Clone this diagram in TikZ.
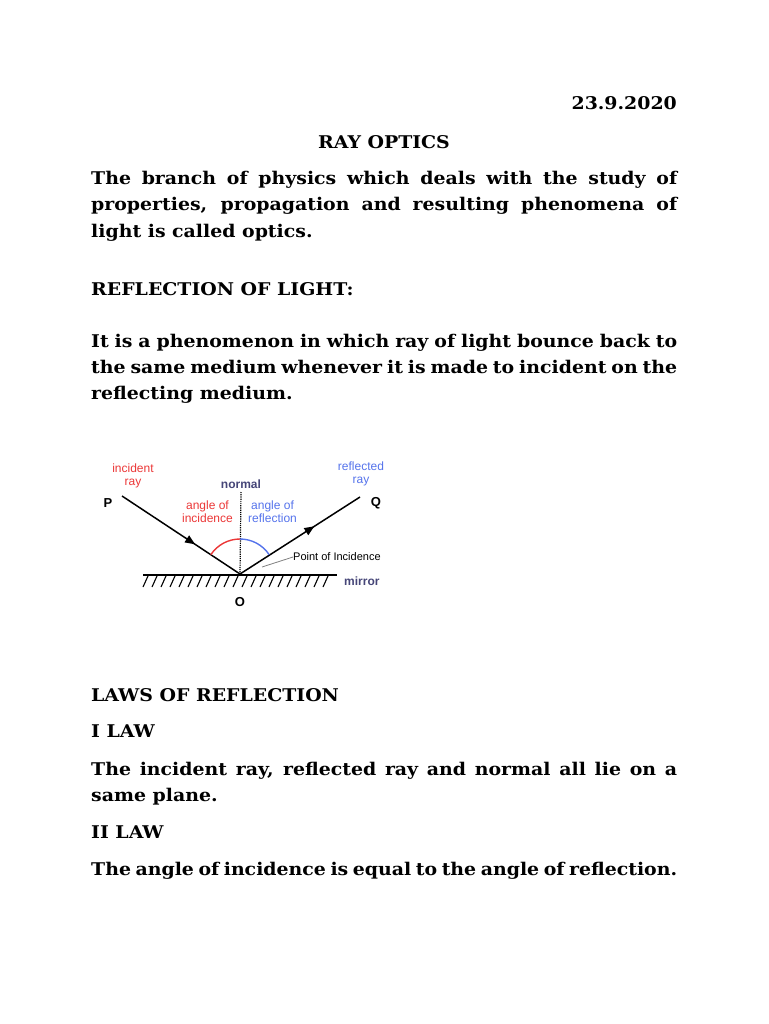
\documentclass[tikz,border=0pt]{standalone}
\usepackage{fontspec}
\setmainfont{DejaVu Serif}[FakeStretch=1.08]
\newfontfamily\dsans{Liberation Sans}
\usetikzlibrary{arrows.meta,decorations.markings}
\definecolor{rred}{RGB}{235,55,55}
\definecolor{bblue}{RGB}{85,115,235}
\definecolor{slate}{RGB}{70,70,120}
\tikzset{
 ln/.style={anchor=base west,inner sep=0pt,font=\fontsize{17.5}{26}\selectfont\bfseries},
 lab/.style={inner sep=0pt,font=\dsans\fontsize{12}{13}\selectfont,align=center},
 ray/.style={line width=1.5pt,postaction={decorate},decoration={markings,mark=at position 0.62 with {\arrow{Triangle[length=10pt,width=8pt]}}}}
}
\newcommand\jl[1]{\hbox to 586pt{#1}}
\begin{document}
\begin{tikzpicture}[x=1pt,y=-1pt]
\useasboundingbox (0,0) rectangle (768,1024);
\node[ln,anchor=base east] (date) at (677,110) {23.9.2020};
\node[ln,anchor=base] (title) at (384,149) {RAY OPTICS};
\node[ln] (p1a) at (91,185) {\jl{The branch of physics which deals with the study of}};
\node[ln] (p1b) at (91,211) {\jl{properties, propagation and resulting phenomena of}};
\node[ln] (p1c) at (91,237) {light is called optics.};
\node[ln] (h1) at (91,295) {REFLECTION OF LIGHT:};
\node[ln] (p2a) at (91,347) {\jl{It is a phenomenon in which ray of light bounce back to}};
\node[ln] (p2b) at (91,373) {\jl{the same medium whenever it is made to incident on the}};
\node[ln] (p2c) at (91,399) {reflecting medium.};
\node[ln] (h2) at (91,701) {LAWS OF REFLECTION};
\node[ln] (h3) at (91,737) {I LAW};
\node[ln] (p3a) at (91,775) {\jl{The incident ray, reflected ray and normal all lie on a}};
\node[ln] (p3b) at (91,801) {same plane.};
\node[ln] (h4) at (91,838) {II LAW};
\node[ln] (p4a) at (91,875) {\jl{The angle of incidence is equal to the angle of reflection.}};
% diagram
\coordinate (O) at (240,574);
\coordinate (P) at (122,496);
\coordinate (Q) at (360,497);
\coordinate (N) at (241,492);
\coordinate (ML) at (143,575);
\coordinate (MR) at (337,575);
\draw[line width=1.8pt] (ML) -- (MR);
\foreach \x in {148,157,...,334} \draw[line width=1.1pt] (\x,576) -- (\x-5,587);
\draw[densely dotted,line width=1.2pt] (N) -- (O);
\draw[ray] (P) -- (O);
\draw[ray] (O) -- (Q);
\draw[rred,line width=1.4pt] ([shift={(-146.5:35)}]O) arc[start angle=-146.5,end angle=-90,radius=35];
\draw[bblue,line width=1.4pt] ([shift={(-90:35)}]O) arc[start angle=-90,end angle=-33.5,radius=35];
\node[lab,text=rred] (inc) at (133,476) {incident\\ray};
\node[lab,text=bblue] (ref) at (361,474) {reflected\\ray};
\node[lab,text=slate,font=\dsans\bfseries\fontsize{12}{13}\selectfont] (nor) at (241,484) {normal};
\node[lab,font=\dsans\bfseries\fontsize{13}{13}\selectfont] (Pl) at (108,503) {P};
\node[lab,font=\dsans\bfseries\fontsize{13}{13}\selectfont] (Ql) at (376,503) {Q};
\node[lab,text=rred,anchor=east,align=center] (aoi) at (233,512) {angle of\\incidence};
\node[lab,text=bblue,anchor=west,align=center] (aor) at (248,512) {angle of\\reflection};
\node[lab,anchor=west,font=\dsans\fontsize{11}{12}\selectfont] (poi) at (293,557) {Point of Incidence};
\draw[gray,line width=0.8pt] (poi.west) -- (262,567);
\node[lab,anchor=west,text=slate,font=\dsans\bfseries\fontsize{12}{13}\selectfont] (mir) at (344,581) {mirror};
\node[lab,font=\dsans\bfseries\fontsize{13}{13}\selectfont] (Ol) at (240,602) {O};
\end{tikzpicture}
\end{document}
